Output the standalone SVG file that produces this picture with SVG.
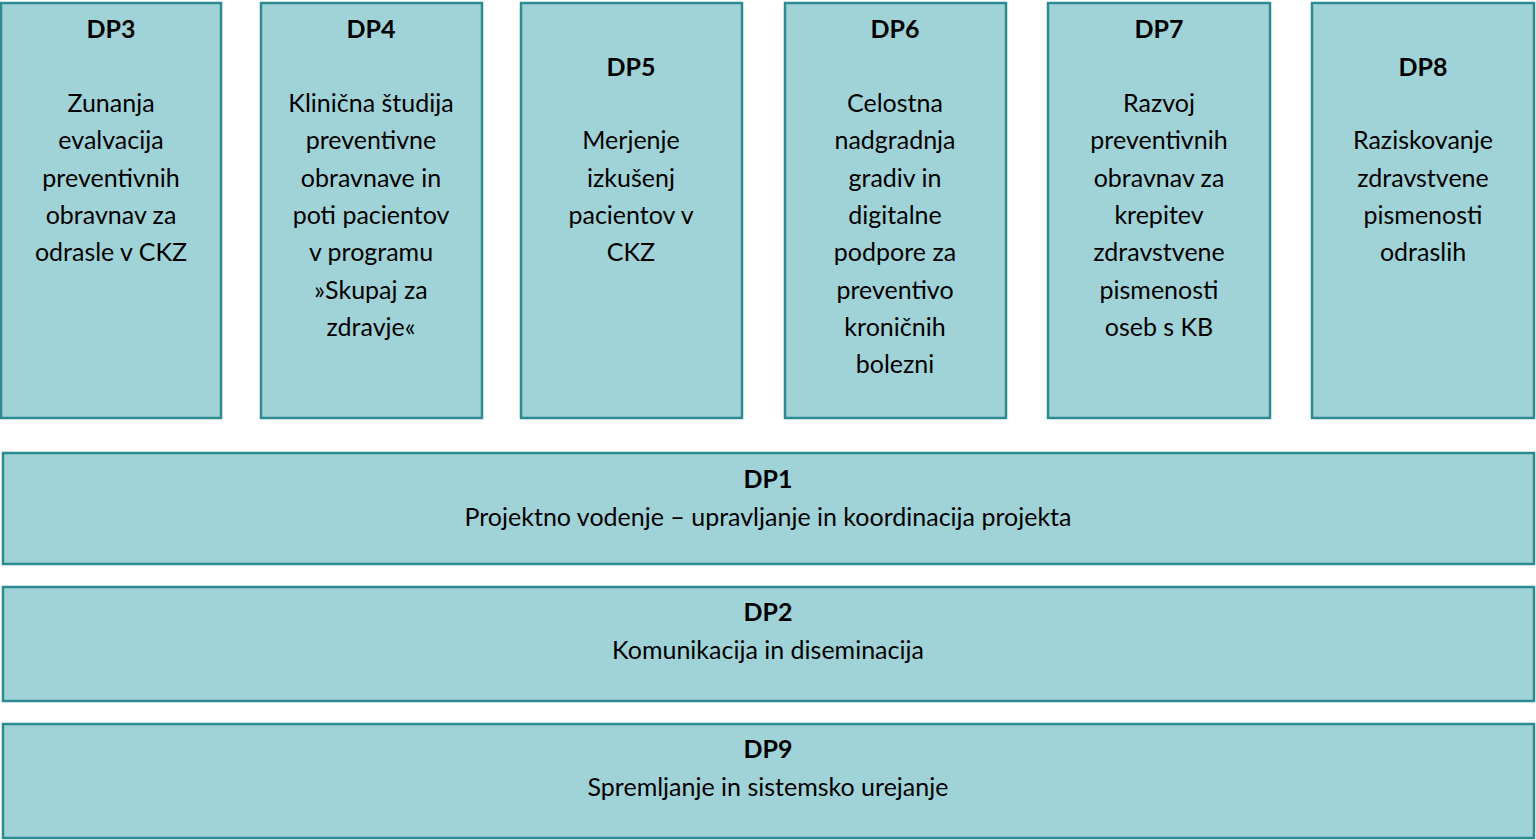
<svg xmlns="http://www.w3.org/2000/svg" width="1536" height="840" viewBox="0 0 1536 840">
<style>
rect{fill:#a0d3d7;stroke:#2c8a91;stroke-width:2.5}
text{font-family:Lato,"Liberation Sans",sans-serif;font-size:25px;fill:#000;text-anchor:middle}
.t{font-weight:bold}
</style>
<rect x="0" y="0" width="1536" height="840" style="fill:#fff;stroke:none"/>
<g id="dp3"><rect x="1" y="3" width="220" height="415"/>
<text x="111" y="38" class="t">DP3</text>
<text x="111" y="112">Zunanja</text><text x="111" y="149">evalvacija</text><text x="111" y="187">preventivnih</text><text x="111" y="224">obravnav za</text><text x="111" y="261">odrasle v CKZ</text></g>
<g id="dp4"><rect x="261" y="3" width="221" height="415"/>
<text x="371" y="38" class="t">DP4</text>
<text x="371" y="112">Klinična študija</text><text x="371" y="149">preventivne</text><text x="371" y="187">obravnave in</text><text x="371" y="224">poti pacientov</text><text x="371" y="261">v programu</text><text x="371" y="299">»Skupaj za</text><text x="371" y="336">zdravje«</text></g>
<g id="dp5"><rect x="521" y="3" width="221" height="415"/>
<text x="631" y="76" class="t">DP5</text>
<text x="631" y="149">Merjenje</text><text x="631" y="187">izkušenj</text><text x="631" y="224">pacientov v</text><text x="631" y="261">CKZ</text></g>
<g id="dp6"><rect x="785" y="3" width="221" height="415"/>
<text x="895" y="38" class="t">DP6</text>
<text x="895" y="112">Celostna</text><text x="895" y="149">nadgradnja</text><text x="895" y="187">gradiv in</text><text x="895" y="224">digitalne</text><text x="895" y="261">podpore za</text><text x="895" y="299">preventivo</text><text x="895" y="336">kroničnih</text><text x="895" y="373">bolezni</text></g>
<g id="dp7"><rect x="1048" y="3" width="222" height="415"/>
<text x="1159" y="38" class="t">DP7</text>
<text x="1159" y="112">Razvoj</text><text x="1159" y="149">preventivnih</text><text x="1159" y="187">obravnav za</text><text x="1159" y="224">krepitev</text><text x="1159" y="261">zdravstvene</text><text x="1159" y="299">pismenosti</text><text x="1159" y="336">oseb s KB</text></g>
<g id="dp8"><rect x="1312" y="3" width="222" height="415"/>
<text x="1423" y="76" class="t">DP8</text>
<text x="1423" y="149">Raziskovanje</text><text x="1423" y="187">zdravstvene</text><text x="1423" y="224">pismenosti</text><text x="1423" y="261">odraslih</text></g>
<g id="dp1"><rect x="3" y="453" width="1531" height="111"/>
<text x="768" y="488" class="t">DP1</text><text x="768" y="526">Projektno vodenje – upravljanje in koordinacija projekta</text></g>
<g id="dp2"><rect x="3" y="587" width="1531" height="114"/>
<text x="768" y="621" class="t">DP2</text><text x="768" y="659">Komunikacija in diseminacija</text></g>
<g id="dp9"><rect x="3" y="724" width="1531" height="114"/>
<text x="768" y="758" class="t">DP9</text><text x="768" y="796">Spremljanje in sistemsko urejanje</text></g>
<g id="connectors"></g>
</svg>
